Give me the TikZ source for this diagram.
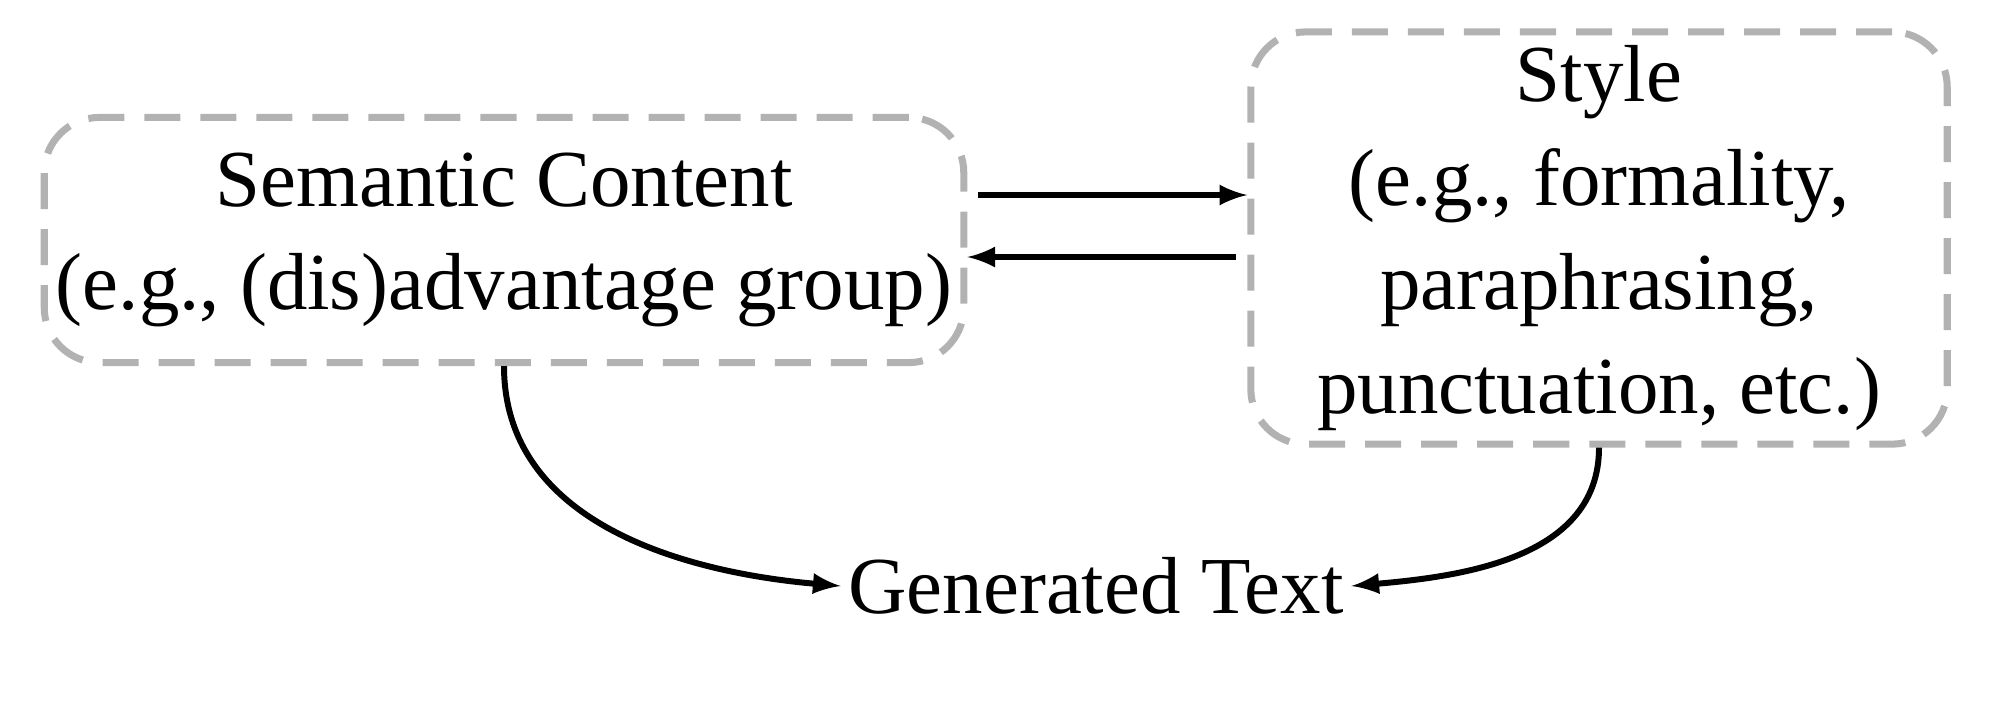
\documentclass[tikz,border=0pt]{standalone}
\usepackage{fontspec}
\setmainfont{Liberation Serif}
\usetikzlibrary{arrows,positioning}
\tikzset{>=latex, font=\fontsize{23}{29.5}\selectfont}
\tikzstyle{group} = [draw=gray!60, dash pattern=on 0.36cm off 0.2cm, line width=2pt, rounded corners=0.55cm, align=center, inner sep=0pt]
\tikzstyle{link} = [->, line width=1.7pt]
\begin{document}
\begin{tikzpicture}[x=0.01cm, y=-0.01cm]
		\useasboundingbox (0,0) rectangle (1998,720);

		\node [group, minimum width=9.19cm, minimum height=2.45cm] at (504,240) (content) {Semantic Content\\(e.g., (dis)advantage group)};
		\node [group, minimum width=6.96cm, minimum height=4.12cm] at (1599,238) (style) {Style\\(e.g., formality,\\paraphrasing,\\punctuation, etc.)};
		\node [inner sep=2pt] at (1096,586) (gen) {Generated Text};

		\coordinate (a) at (978,195);
		\coordinate (b) at (1236,257);
		\draw [link] (a) -- (style.west |- a);
		\draw [link] (b) -- (content.east |- b);

		\draw [link] (content.south) to [out=-90, in=175] (gen.west);
		\draw [link] (style.south) to [out=-90, in=5] (gen.east);
	\end{tikzpicture}
\end{document}
